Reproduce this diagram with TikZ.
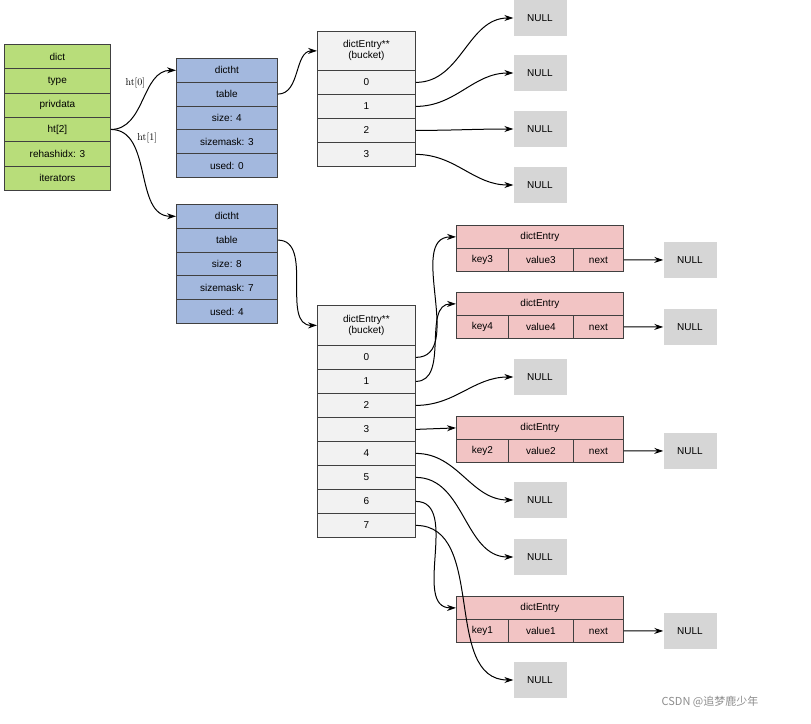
\documentclass[tikz,border=0pt]{standalone}
\usepackage{fontspec}
\setmainfont{Liberation Sans}
\newfontfamily\cjk{Noto Sans CJK SC}
\usetikzlibrary{arrows.meta}
\definecolor{dictgreen}{HTML}{B8DD7A}
\definecolor{htblue}{HTML}{A3B8DE}
\definecolor{bucketgray}{HTML}{F2F2F2}
\definecolor{entryred}{HTML}{F2C4C4}
\definecolor{nullgray}{HTML}{D6D6D6}
\begin{document}
\begin{tikzpicture}[x=1pt, y=-1pt, font=\fontsize{10}{11}\selectfont,
            cell/.style = {draw=black!75, line width=.8pt, fill=#1, minimum height=24.3pt,
                         inner sep=0pt, anchor=north west},
            nul/.style = {fill=nullgray, minimum width=53pt, minimum height=36pt,
                         inner sep=0pt},
            ptr/.style = {-{Stealth[length=9pt,width=6pt]}, line width=1pt}
        ]
            \useasboundingbox (0,0) rectangle (811,723);
            %
            \foreach \t [count=\i from 0] in {dict,type,privdata,ht[2],rehashidx: 3,iterators}
                \node (d\i) at (4,44+24.3*\i) [cell=dictgreen, minimum width=106pt] {\t};
            %
            \foreach \t [count=\i from 0] in {dictht,table,size: 4,sizemask: 3,used: 0}
                \node (a\i) at (176,58+23.8*\i) [cell=htblue, minimum width=101pt, minimum height=23.8pt] {\t};
            \foreach \t [count=\i from 0] in {dictht,table,size: 8,sizemask: 7,used: 4}
                \node (b\i) at (176,204+23.8*\i) [cell=htblue, minimum width=101pt, minimum height=23.8pt] {\t};
            %
            \node (p) at (317,31) [cell=bucketgray, minimum width=98pt, minimum height=39pt,
                                   align=center] {dictEntry**\\(bucket)};
            \foreach \i in {0,...,3}
                \node (p\i) at (317,70+24*\i) [cell=bucketgray, minimum width=98pt, minimum height=24pt] {\i};
            \node (q) at (317,305) [cell=bucketgray, minimum width=98pt, minimum height=40pt,
                                   align=center] {dictEntry**\\(bucket)};
            \foreach \i in {0,...,7}
                \node (q\i) at (317,345+24*\i) [cell=bucketgray, minimum width=98pt, minimum height=24pt] {\i};
            %
            \foreach \n/\y in {3/225,4/292,2/416,1/596} {
                \node (e\n) at (456,\y) [cell=entryred, minimum width=167pt, minimum height=23pt] {dictEntry};
                \node (k\n) at (456,\y+23) [cell=entryred, minimum width=52pt, minimum height=23pt] {key\n};
                \node (v\n) at (508,\y+23) [cell=entryred, minimum width=65pt, minimum height=23pt] {value\n};
                \node (x\n) at (573,\y+23) [cell=entryred, minimum width=50pt, minimum height=23pt] {next};
                \node (xn\n) at (690,\y+35) [nul] {NULL};
                \draw[ptr] (x\n.east) -- (xn\n);
            }
            %
            \foreach \i/\y in {0/18,1/73,2/129,3/185}
                \node (pn\i) at (540,\y) [nul] {NULL};
            \node (qn2) at (540,377) [nul] {NULL};
            \node (qn4) at (540,500) [nul] {NULL};
            \node (qn5) at (540,557) [nul] {NULL};
            \node (qn7) at (540,680) [nul] {NULL};
            %
            \draw[ptr] (d3.east) to[out=0,in=180] node[pos=.6, above left=-1pt, font=\fontfamily{lmr}\selectfont] {ht[0]} (a0.west);
            \draw[ptr] (d3.east) to[out=0,in=180] node[pos=.28, above right=-1pt, font=\fontfamily{lmr}\selectfont] {ht[1]} (b0.west);
            \draw[ptr] (a1.east) to[out=0,in=180] (p.west);
            \draw[ptr] (b1.east) to[out=0,in=180] (q.west);
            \foreach \i in {0,...,3}
                \draw[ptr] (p\i.east) to[out=0,in=180] (pn\i.west);
            \draw[ptr] (q0.east) to[out=0,in=180] (e3.west);
            \draw[ptr] (q1.east) to[out=0,in=180] (e4.west);
            \draw[ptr] (q2.east) to[out=0,in=180] (qn2.west);
            \draw[ptr] (q3.east) -- (e2.west);
            \draw[ptr] (q4.east) to[out=0,in=180] (qn4.west);
            \draw[ptr] (q5.east) to[out=0,in=180] (qn5.west);
            \draw[ptr] (q6.east) to[out=0,in=180] (e1.west);
            \draw[ptr] (q7.east) to[out=0,in=180] (qn7.west);
            %
            \node (mark) at (710,702) [text=black!45, font=\cjk\fontsize{11}{12}\selectfont] {CSDN @追梦鹿少年};
        \end{tikzpicture}
\end{document}
